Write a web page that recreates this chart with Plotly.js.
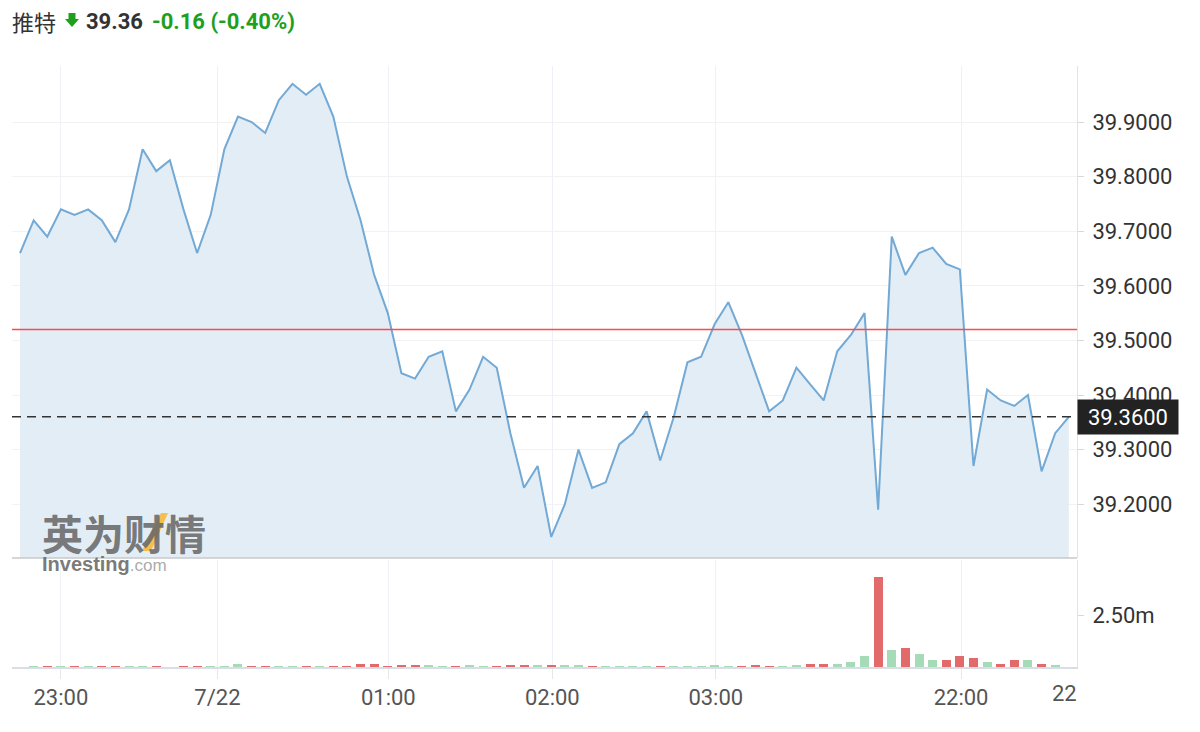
<!DOCTYPE html>
<html>
<head>
<meta charset="utf-8">
<script src="https://cdn.plot.ly/plotly-3.0.1.min.js"></script>
<style>
  html, body { margin: 0; padding: 0; background: #fff; }
  #chart { width: 1200px; height: 732px; }
</style>
</head>
<body>
<div id="chart"></div>
<script>
// ---- data ----
const price = [
  39.66, 39.72, 39.69, 39.74, 39.73, 39.74, 39.72, 39.68, 39.74, 39.85,
  39.81, 39.83, 39.74, 39.66, 39.73, 39.85, 39.91, 39.90, 39.88, 39.94,
  39.97, 39.95, 39.97, 39.91, 39.80, 39.72, 39.62, 39.55, 39.44, 39.43,
  39.47, 39.48, 39.37, 39.41, 39.47, 39.45, 39.33, 39.23, 39.27, 39.14,
  39.20, 39.30, 39.23, 39.24, 39.31, 39.33, 39.37, 39.28, 39.36, 39.46,
  39.47, 39.53, 39.57, 39.51, 39.44, 39.37, 39.39, 39.45, 39.42, 39.39,
  39.48, 39.51, 39.55, 39.19, 39.69, 39.62, 39.66, 39.67, 39.64, 39.63,
  39.27, 39.41, 39.39, 39.38, 39.40, 39.26, 39.33, 39.36
];
// volume in thousands
const volumeK = [
  0, 60, 60, 60, 60, 60, 60, 60, 60, 60,
  60, 0, 60, 60, 60, 60, 150, 60, 60, 60,
  60, 60, 60, 60, 60, 150, 150, 60, 100, 120,
  100, 60, 60, 110, 60, 60, 120, 120, 120, 120,
  120, 120, 60, 60, 60, 60, 60, 60, 60, 60,
  60, 110, 60, 60, 120, 60, 60, 110, 160, 160,
  160, 260, 530, 4380, 800, 900, 610, 350, 350, 530,
  430, 260, 160, 350, 350, 160, 80, 0
];
const prevClose = 39.52;
const priceTicks = [39.2, 39.3, 39.4, 39.5, 39.6, 39.7, 39.8, 39.9];
const volTicks = [2500000];
const volTickText = ['2.50m'];
const timeTickPos = [3.0, 14.49, 27.04, 39.08, 51.08, 69.09];
const timeTickText = ['23:00', '7/22', '01:00', '02:00', '03:00', '22:00'];
const clippedLastLabel = '22';
const headerName = '推特';
const headerPrice = '39.36';
const headerChange = '-0.16 (-0.40%)';

// ---- derived ----
const idx = price.map((_, i) => i);
const volume = volumeK.map(v => v * 1000);
const volColors = price.map((p, i) => (i > 0 && p < price[i - 1]) ? '#e26a6a' : '#a6dbb7');
const lastPrice = price[price.length - 1];

const FONT = 'Roboto, "Noto Sans", Arial, sans-serif';
const CJK = '"Noto Sans CJK SC", "Noto Sans", sans-serif';
const priceDomainBottom = 0.1814;

// plot area in pixels: left 12, right 1077, top 66, bottom 667
const px = x => (x - 12) / 1065;
const py = y => (667 - y) / 601;

const traces = [
  {
    type: 'scatter', mode: 'lines', x: idx, y: price,
    xaxis: 'x', yaxis: 'y',
    line: { color: '#72a9d5', width: 2 },
    fill: 'tozeroy', fillcolor: '#e3edf6',
    hoverinfo: 'skip'
  },
  {
    type: 'bar', x: idx, y: volume,
    xaxis: 'x', yaxis: 'y2',
    marker: { color: volColors, line: { width: 0 } },
    width: 0.66,
    hoverinfo: 'skip'
  }
];

const arrowPath = 'M ' + px(68.5) + ' ' + py(13) + ' L ' + px(75.5) + ' ' + py(13) +
  ' L ' + px(75.5) + ' ' + py(19) + ' L ' + px(79) + ' ' + py(19) +
  ' L ' + px(72) + ' ' + py(27) + ' L ' + px(65) + ' ' + py(19) +
  ' L ' + px(68.5) + ' ' + py(19) + ' Z';

const accentPath = 'M ' + px(161) + ' ' + py(513) + ' L ' + px(168) + ' ' + py(513) +
  ' L ' + px(151) + ' ' + py(551) + ' L ' + px(142) + ' ' + py(551) + ' Z';

const layout = {
  width: 1200, height: 732,
  margin: { l: 12, r: 123, t: 66, b: 65, pad: 0 },
  paper_bgcolor: '#ffffff', plot_bgcolor: '#ffffff',
  showlegend: false,
  bargap: 0,
  font: { family: FONT, size: 22, color: '#333' },
  xaxis: {
    anchor: 'y2', domain: [0, 1],
    range: [-0.59, 77.6],
    tickmode: 'array', tickvals: timeTickPos, ticktext: timeTickText,
    showgrid: true, gridcolor: '#eef1f5', gridwidth: 1,
    zeroline: false,
    showline: true, linecolor: '#d9dee6', linewidth: 2,
    ticks: 'outside', ticklen: 10, tickcolor: '#e4e7ec', tickwidth: 1,
    tickfont: { family: FONT, size: 22, color: '#555' },
    fixedrange: true
  },
  yaxis: {
    domain: [priceDomainBottom, 1], anchor: 'x', side: 'right',
    range: [39.1015, 40.0026],
    tickmode: 'array', tickvals: priceTicks, tickformat: '.4f',
    showgrid: true, gridcolor: '#f2f2f2', gridwidth: 1,
    zeroline: false,
    showline: true, linecolor: '#e3e3e3', linewidth: 1,
    ticks: 'outside', ticklen: 6, tickcolor: '#d8d8d8',
    ticklabelstandoff: 4,
    tickfont: { family: FONT, size: 22, color: '#333' },
    fixedrange: true
  },
  yaxis2: {
    domain: [0, priceDomainBottom - 0.003], anchor: 'x', side: 'right',
    range: [0, 5190000],
    tickmode: 'array', tickvals: volTicks, ticktext: volTickText,
    showgrid: false, zeroline: false,
    showline: true, linecolor: '#e3e3e3', linewidth: 1,
    ticks: 'outside', ticklen: 6, tickcolor: '#d8d8d8',
    ticklabelstandoff: 4,
    tickfont: { family: FONT, size: 22, color: '#333' },
    fixedrange: true
  },
  shapes: [
    { type: 'line', xref: 'paper', yref: 'y', x0: 0, x1: 1, y0: prevClose, y1: prevClose,
      layer: 'above', line: { color: '#ff4a4a', width: 1.5 } },
    { type: 'line', xref: 'paper', yref: 'y', x0: 0, x1: 1, y0: lastPrice, y1: lastPrice,
      line: { color: '#333333', width: 1.5, dash: '9px,6px' } },
    { type: 'line', xref: 'paper', yref: 'paper', x0: 0, x1: 1,
      y0: priceDomainBottom, y1: priceDomainBottom,
      line: { color: '#c8c8c8', width: 1.5 } },
    { type: 'path', xref: 'paper', yref: 'paper', path: arrowPath,
      fillcolor: '#1ea01e', line: { width: 0 } },
    { type: 'path', xref: 'paper', yref: 'paper', path: accentPath,
      fillcolor: 'rgba(245,185,60,0.9)', line: { width: 0 }, layer: 'above' }
  ],
  annotations: [
    { xref: 'paper', yref: 'y', x: 1, y: lastPrice, xanchor: 'left', yanchor: 'middle',
      text: lastPrice.toFixed(4), showarrow: false,
      bgcolor: '#222222', borderpad: 4, width: 92, height: 26, align: 'center',
      font: { family: FONT, size: 22, color: '#ffffff' } },
    { xref: 'paper', yref: 'paper', x: 1, y: py(693), xanchor: 'right', yanchor: 'middle',
      text: clippedLastLabel, showarrow: false, xshift: 2,
      font: { family: FONT, size: 22, color: '#555' } },
    { xref: 'paper', yref: 'paper', x: px(10), y: py(21), xanchor: 'left', yanchor: 'middle',
      text: headerName, showarrow: false,
      font: { family: CJK, size: 22, color: '#333' } },
    { xref: 'paper', yref: 'paper', x: px(84), y: py(21), xanchor: 'left', yanchor: 'middle',
      text: '<b>' + headerPrice + '</b>', showarrow: false,
      font: { family: FONT, size: 22, color: '#333' } },
    { xref: 'paper', yref: 'paper', x: px(150), y: py(21), xanchor: 'left', yanchor: 'middle',
      text: '<b>' + headerChange + '</b>', showarrow: false,
      font: { family: FONT, size: 22, color: '#1ea01e' } },
    { xref: 'paper', yref: 'paper', x: px(40), y: py(532), xanchor: 'left', yanchor: 'middle',
      text: '<b>英为财情</b>', showarrow: false,
      font: { family: CJK, size: 41, color: 'rgba(105,105,105,0.9)' } },
    { xref: 'paper', yref: 'paper', x: px(40), y: py(564), xanchor: 'left', yanchor: 'middle',
      text: '<b>Investing</b><span style="font-size:17px;color:#a0a0a0">.com</span>', showarrow: false,
      font: { family: 'Arial, "Liberation Sans", sans-serif', size: 20, color: 'rgba(105,105,105,0.9)' } }
  ]
};

Plotly.newPlot('chart', traces, layout, { displayModeBar: false, staticPlot: true });
</script>
</body>
</html>
